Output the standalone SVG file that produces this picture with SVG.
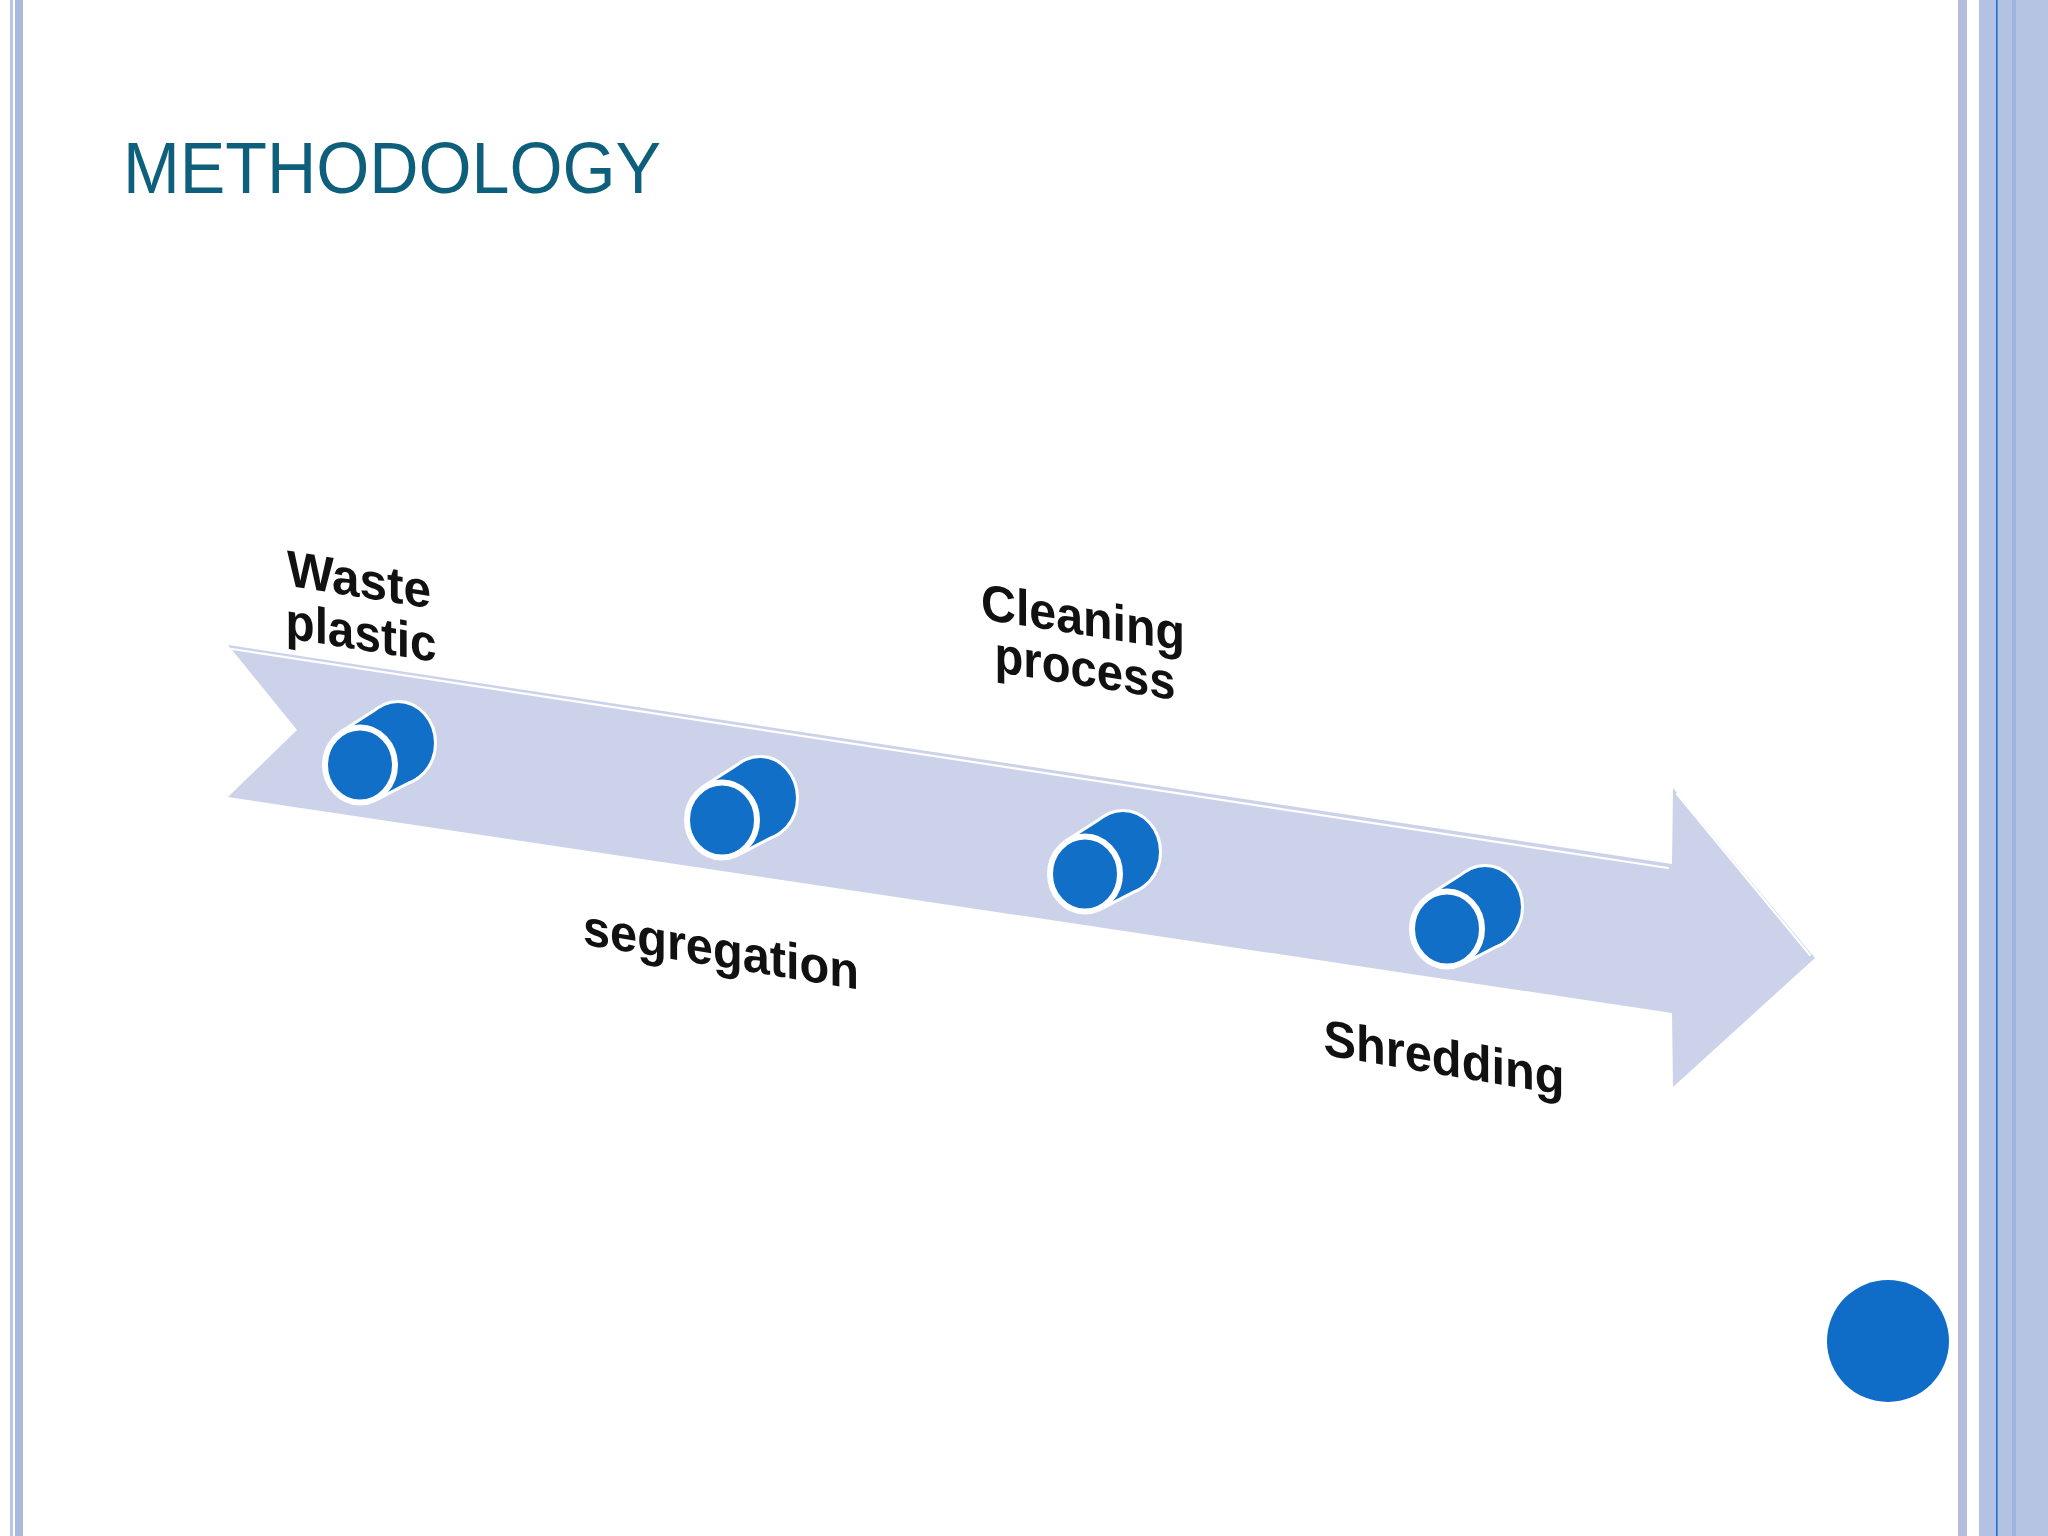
<svg xmlns="http://www.w3.org/2000/svg" xmlns:xlink="http://www.w3.org/1999/xlink" width="2048" height="1536" viewBox="0 0 2048 1536">
  <style>
    .lbl { font-family: "Liberation Sans", Arial, sans-serif; font-weight: bold; font-size: 51px; fill: #111111; text-anchor: middle; }
    .title { font-family: "Liberation Sans", Arial, sans-serif; font-size: 73px; fill: #0E5F7B; }
    .edge { fill: #FFFFFF; stroke: #FFFFFF; stroke-width: 6; stroke-linejoin: round; }
    .body { fill: #126FC8; }
    .cap { fill: #126FC8; stroke: #FFFFFF; stroke-width: 6; }
    .hl { fill: none; stroke: #FFFFFF; stroke-width: 2.2; stroke-linecap: round; }
  </style>
  <defs>
    <g id="cylinder">
      <ellipse class="edge" cx="38" cy="-22" rx="36" ry="40"/>
      <polygon class="edge" points="17.5,32.5 56,12.6 20,-56.6 -17.5,-32.5"/>
      <ellipse class="body" cx="38" cy="-22" rx="36" ry="40"/>
      <polygon class="body" points="17.5,32.5 56,12.6 20,-56.6 -17.5,-32.5"/>
      <ellipse class="cap" cx="0" cy="0" rx="35" ry="37.5"/>
    </g>
  </defs>

  <rect x="0" y="0" width="2048" height="1536" fill="#FFFFFF"/>

  <g id="frame">
    <rect x="10" y="0" width="3" height="1536" fill="#B9C4E4"/>
    <rect x="15" y="0" width="8" height="1536" fill="#A9B8DD"/>
    <rect x="1958" y="0" width="9" height="1536" fill="#B4BDE0"/>
    <rect x="1979" y="0" width="37" height="1536" fill="#B3C1E3"/>
    <rect x="1996" y="0" width="1.6" height="1536" fill="#2470C8"/>
    <rect x="2012" y="0" width="4" height="1536" fill="#9EB4DD"/>
    <rect x="2016" y="0" width="32" height="1536" fill="#B6C4E3"/>
  </g>

  <g id="title">
    <text class="title" x="123" y="193" textLength="538" lengthAdjust="spacingAndGlyphs">METHODOLOGY</text>
  </g>

  <g id="connectors">
    <polygon id="process-arrow" points="228,645 1672,864 1673,788 1815,958 1673,1087 1672,1013 228,797 297,730" fill="#CCD2EA"/>
    <polyline class="hl" points="232,649 1668,868"/>
    <polyline class="hl" points="1677,794 1810,955"/>
  </g>

  <g id="node-waste-plastic">
    <use xlink:href="#cylinder" href="#cylinder" x="360" y="765"/>
    <g transform="translate(359,597) skewY(9.1)"><text class="lbl" x="0" y="0" textLength="144" lengthAdjust="spacingAndGlyphs">Waste</text></g>
    <g transform="translate(361,650) skewY(9.1)"><text class="lbl" x="0" y="0" textLength="151" lengthAdjust="spacingAndGlyphs">plastic</text></g>
  </g>

  <g id="node-segregation">
    <use xlink:href="#cylinder" href="#cylinder" x="722" y="820"/>
    <g transform="translate(721,967) skewY(9.3)"><text class="lbl" x="0" y="0" textLength="276" lengthAdjust="spacingAndGlyphs">segregation</text></g>
  </g>

  <g id="node-cleaning">
    <use xlink:href="#cylinder" href="#cylinder" x="1085" y="874"/>
    <g transform="translate(1083,635) skewY(8.9)"><text class="lbl" x="0" y="0" textLength="204" lengthAdjust="spacingAndGlyphs">Cleaning</text></g>
    <g transform="translate(1085,686) skewY(8.9)"><text class="lbl" x="0" y="0" textLength="181" lengthAdjust="spacingAndGlyphs">process</text></g>
  </g>

  <g id="node-shredding">
    <use xlink:href="#cylinder" href="#cylinder" x="1447" y="929"/>
    <g transform="translate(1444,1075) skewY(9.5)"><text class="lbl" x="0" y="0" textLength="241" lengthAdjust="spacingAndGlyphs">Shredding</text></g>
  </g>

  <g id="dot">
    <circle cx="1888" cy="1341" r="61" fill="#0F6CC7"/>
  </g>
</svg>
